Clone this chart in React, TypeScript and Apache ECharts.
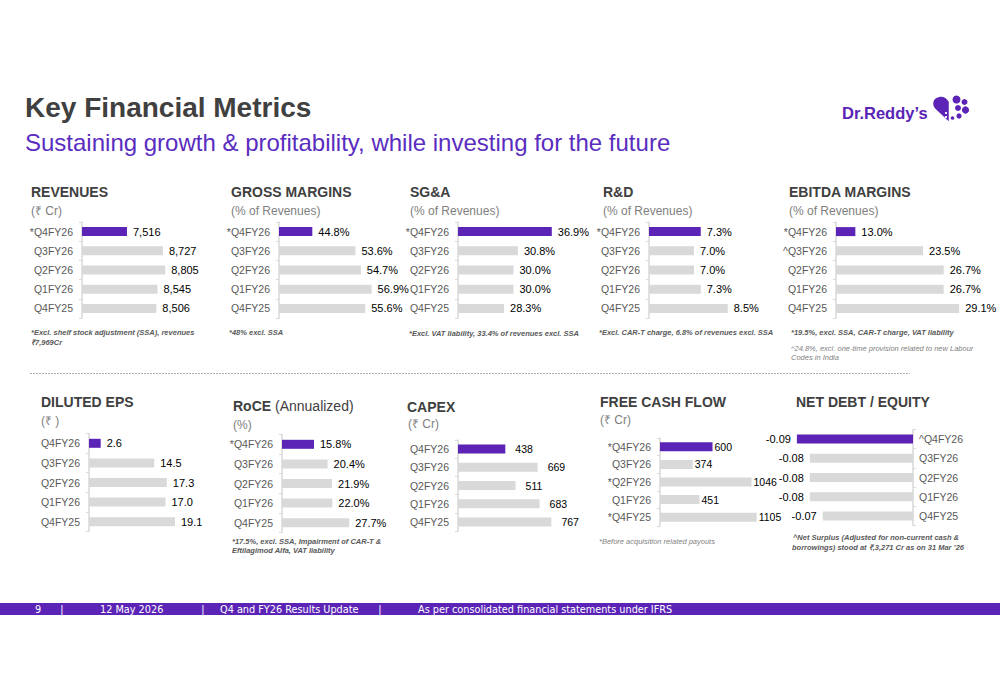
import React, { useEffect, useRef } from "react";
import * as echarts from "echarts";

// ---------- DATA ----------
const revCats = ["*Q4FY26", "Q3FY26", "Q2FY26", "Q1FY26", "Q4FY25"];
const revVals = [7516, 8727, 8805, 8545, 8506];

const gmCats = ["*Q4FY26", "Q3FY26", "Q2FY26", "Q1FY26", "Q4FY25"];
const gmVals = [44.8, 53.6, 54.7, 56.9, 55.6];

const sgaCats = ["*Q4FY26", "Q3FY26", "Q2FY26", "Q1FY26", "Q4FY25"];
const sgaVals = [36.9, 30.8, 30.0, 30.0, 28.3];

const rdCats = ["*Q4FY26", "Q3FY26", "Q2FY26", "Q1FY26", "Q4FY25"];
const rdVals = [7.3, 7.0, 7.0, 7.3, 8.5];

const ebitdaCats = ["*Q4FY26", "^Q3FY26", "Q2FY26", "Q1FY26", "Q4FY25"];
const ebitdaVals = [13.0, 23.5, 26.7, 26.7, 29.1];

const epsCats = ["Q4FY26", "Q3FY26", "Q2FY26", "Q1FY26", "Q4FY25"];
const epsVals = [2.6, 14.5, 17.3, 17.0, 19.1];

const roceCats = ["*Q4FY26", "Q3FY26", "Q2FY26", "Q1FY26", "Q4FY25"];
const roceVals = [15.8, 20.4, 21.9, 22.0, 27.7];

const capexCats = ["Q4FY26", "Q3FY26", "Q2FY26", "Q1FY26", "Q4FY25"];
const capexVals = [438, 669, 511, 683, 767];

const fcfCats = ["*Q4FY26", "Q3FY26", "*Q2FY26", "Q1FY26", "*Q4FY25"];
const fcfVals = [600, 374, 1046, 451, 1105];

const ndeCats = ["^Q4FY26", "Q3FY26", "Q2FY26", "Q1FY26", "Q4FY25"];
const ndeVals = [-0.09, -0.08, -0.08, -0.08, -0.07];

// ---------- STYLE ----------
const PURPLE = "#5B24B6";
const BAR_GRAY = "#D9D9D9";
const FONT = '"Liberation Sans", Arial, sans-serif';
const TITLE_C = "#404040";
const CAT_C = "#595959";
const UNIT_C = "#808080";
const NOTE_C = "#595959";

type Panel = {
  cats: string[];
  vals: number[];
  min: number;
  max: number;
  fmt: (v: number) => string;
  grid: { left: number; top: number; width: number; height: number };
  right?: boolean;
  dist?: number;
  fs?: number;
};

const withComma = (v: number) => v.toLocaleString("en-US");
const pct = (v: number) => v.toFixed(1) + "%";
const one = (v: number) => v.toFixed(1);
const int = (v: number) => String(v);
const two = (v: number) => v.toFixed(2);

const panels: Panel[] = [
  { cats: revCats, vals: revVals, min: 6000, max: 9000, fmt: withComma, grid: { left: 82, top: 222, width: 89, height: 96 } },
  { cats: gmCats, vals: gmVals, min: 38, max: 58, fmt: pct, grid: { left: 279, top: 222, width: 98, height: 96 } },
  { cats: sgaCats, vals: sgaVals, min: 20, max: 40, fmt: pct, grid: { left: 458, top: 222, width: 111, height: 96 } },
  { cats: rdCats, vals: rdVals, min: 5, max: 9, fmt: pct, grid: { left: 649, top: 222, width: 90, height: 96 } },
  { cats: ebitdaCats, vals: ebitdaVals, min: 10, max: 30, fmt: pct, grid: { left: 836, top: 222, width: 129, height: 96 } },
  { cats: epsCats, vals: epsVals, min: 0, max: 20, fmt: one, grid: { left: 89, top: 433.5, width: 90, height: 98 } },
  { cats: roceCats, vals: roceVals, min: 5, max: 30, fmt: pct, grid: { left: 282, top: 434.5, width: 74, height: 98 } },
  { cats: capexCats, vals: capexVals, min: 100, max: 800, fmt: int, grid: { left: 458, top: 440, width: 98, height: 91 }, dist: 10, fs: 10.5 },
  { cats: fcfCats, vals: fcfVals, min: 0, max: 1200, fmt: int, grid: { left: 660, top: 438, width: 105, height: 88 }, dist: 2, fs: 10.5 },
  { cats: ndeCats, vals: ndeVals, min: -0.1, max: 0, fmt: two, grid: { left: 784, top: 429.5, width: 129, height: 96 }, right: true },
];

function txt(text: string, x: number, y: number, font: string, fill: string, align = "left") {
  return {
    type: "text",
    silent: true,
    style: {
      text,
      x,
      y,
      font,
      fill,
      align,
      textAlign: align,
      verticalAlign: "middle",
      textVerticalAlign: "middle",
    },
  };
}

const titleFont = `bold 14px ${FONT}`;
const unitFont = `12px ${FONT}`;
const noteB = `italic bold 7.5px ${FONT}`;
const noteR = `italic 7.5px ${FONT}`;
const footFont = `10.8px "DejaVu Sans Condensed", "DejaVu Sans", sans-serif`;

echarts.graphic.registerShape(
  "drheart",
  echarts.graphic.extendPath("M15 26 L3 14 C-1.5 9.5 -0.5 2 6 1 C10 0.3 13 2.5 15 6 Z", {})
);

export default function App() {
  const ref = useRef<HTMLDivElement>(null);

  useEffect(() => {
    if (!ref.current) return;
    const chart = echarts.init(ref.current, undefined, { renderer: "svg" });

    const grids = panels.map((p) => ({ ...p.grid, containLabel: false, outerBoundsMode: "none" }));
    const xAxes = panels.map((p, i) => ({
      type: "value",
      gridIndex: i,
      min: p.min,
      max: p.max,
      show: false,
      splitLine: { show: false },
    }));
    const yAxes = panels.map((p, i) => ({
      type: "category",
      gridIndex: i,
      data: p.cats,
      inverse: true,
      position: p.right ? "right" : "left",
      axisLine: { show: true, onZero: false, lineStyle: { color: BAR_GRAY, width: 1.5 } },
      axisTick: { show: true, length: 3, lineStyle: { color: BAR_GRAY } },
      axisLabel: {
        color: CAT_C,
        fontSize: 10.5,
        fontFamily: FONT,
        margin: p.right ? 6 : 9,
      },
    }));
    const series = panels.map((p, i) => ({
      type: "bar",
      xAxisIndex: i,
      yAxisIndex: i,
      barWidth: 9,
      silent: true,
      data: p.vals.map((v, j) => ({ value: v, itemStyle: { color: j === 0 ? PURPLE : BAR_GRAY } })),
      label: {
        show: true,
        position: p.right ? "left" : "right",
        distance: p.dist ?? 6,
        color: "#000",
        fontSize: p.fs ?? 11,
        fontFamily: FONT,
        formatter: (params: any) => p.fmt(params.value as number),
      },
    }));

    const elements: any[] = [
      // Header
      txt("Key Financial Metrics", 25, 107, `bold 28px ${FONT}`, TITLE_C),
      txt("Sustaining growth & profitability, while investing for the future", 25, 142, `24px ${FONT}`, "#5A2DC0"),
      txt("Dr.Reddy\u2019s", 842, 113, `bold 16.5px ${FONT}`, PURPLE),
      { type: "drheart", x: 933, y: 96, scaleX: 1.05, scaleY: 0.97, silent: true, style: { fill: PURPLE } },
      { type: "circle", silent: true, shape: { cx: 956.5, cy: 99.5, r: 4 }, style: { fill: PURPLE } },
      { type: "circle", silent: true, shape: { cx: 964.5, cy: 102, r: 3 }, style: { fill: PURPLE } },
      { type: "circle", silent: true, shape: { cx: 958, cy: 108, r: 3 }, style: { fill: PURPLE } },
      { type: "circle", silent: true, shape: { cx: 965.5, cy: 110, r: 3.6 }, style: { fill: PURPLE } },
      { type: "circle", silent: true, shape: { cx: 959, cy: 116, r: 2.6 }, style: { fill: PURPLE } },
      { type: "circle", silent: true, shape: { cx: 952.5, cy: 118, r: 1.8 }, style: { fill: PURPLE } },
      { type: "circle", silent: true, shape: { cx: 946, cy: 113, r: 1.1 }, style: { fill: "#fff" } },
      { type: "circle", silent: true, shape: { cx: 946, cy: 117, r: 1.1 }, style: { fill: "#fff" } },

      // Top row titles
      txt("REVENUES", 31, 192, titleFont, TITLE_C),
      txt("(\u20B9 Cr)", 31, 211, unitFont, UNIT_C),
      txt("GROSS MARGINS", 231, 192, titleFont, TITLE_C),
      txt("(% of Revenues)", 231, 211, unitFont, UNIT_C),
      txt("SG&A", 410, 192, titleFont, TITLE_C),
      txt("(% of Revenues)", 410, 211, unitFont, UNIT_C),
      txt("R&D", 603, 192, titleFont, TITLE_C),
      txt("(% of Revenues)", 603, 211, unitFont, UNIT_C),
      txt("EBITDA MARGINS", 789, 192, titleFont, TITLE_C),
      txt("(% of Revenues)", 789, 211, unitFont, UNIT_C),

      // Top row notes
      txt("*Excl. shelf stock adjustment (SSA), revenues", 31, 332, noteB, NOTE_C),
      txt("\u20B97,969Cr", 31, 342, noteB, NOTE_C),
      txt("*48% excl. SSA", 229, 332, noteB, NOTE_C),
      txt("*Excl. VAT liability, 33.4% of revenues excl. SSA", 409, 333, noteB, NOTE_C),
      txt("*Excl. CAR-T charge, 6.8% of revenues excl. SSA", 599, 332, noteB, NOTE_C),
      txt("*19.5%, excl. SSA, CAR-T charge, VAT liability", 791, 332, noteB, NOTE_C),
      txt("^24.8%, excl. one-time provision related to new Labour", 791, 348, noteR, "#7F7F7F"),
      txt("Codes in India", 791, 357, noteR, "#7F7F7F"),

      // Separator
      {
        type: "line",
        silent: true,
        shape: { x1: 30, y1: 373.5, x2: 910, y2: 373.5 },
        style: { stroke: "#B0B0B0", lineWidth: 1, lineDash: [2, 1] },
      },

      // Bottom row titles
      txt("DILUTED EPS", 41, 402, titleFont, TITLE_C),
      txt("(\u20B9 )", 41, 421, unitFont, UNIT_C),
      {
        type: "text",
        silent: true,
        style: {
          text: "{b|RoCE}{n| (Annualized)}",
          x: 233,
          y: 406,
          verticalAlign: "middle",
          textVerticalAlign: "middle",
          rich: {
            b: { font: `bold 14px ${FONT}`, fill: TITLE_C, fontWeight: "bold", fontSize: 14, fontFamily: FONT, color: TITLE_C },
            n: { font: `14px ${FONT}`, fill: TITLE_C, fontSize: 14, fontFamily: FONT, color: TITLE_C },
          },
        },
      },
      txt("(%)", 233, 425, unitFont, UNIT_C),
      txt("CAPEX", 407, 407, titleFont, TITLE_C),
      txt("(\u20B9 Cr)", 408, 424, unitFont, UNIT_C),
      txt("FREE CASH FLOW", 600, 402, titleFont, TITLE_C),
      txt("(\u20B9 Cr)", 600, 420, unitFont, UNIT_C),
      txt("NET DEBT / EQUITY", 796, 402, titleFont, TITLE_C),

      // Bottom row notes
      txt("*17.5%, excl. SSA, Impairment of CAR-T &", 232, 541, noteB, NOTE_C),
      txt("Eftilagimod Alfa, VAT liability", 232, 550, noteB, NOTE_C),
      txt("*Before acquisition related payouts", 599, 541, noteR, "#7F7F7F"),
      txt("^Net Surplus (Adjusted for non-current cash &", 876, 537, noteB, NOTE_C, "center"),
      txt("borrowings) stood at \u20B9,3,271 Cr as on 31 Mar \u201926", 878, 547, noteB, NOTE_C, "center"),

      // Footer
      { type: "rect", silent: true, shape: { x: 0, y: 603, width: 1000, height: 12 }, style: { fill: PURPLE } },
      txt("9", 38, 609.5, footFont, "#fff", "center"),
      txt("|", 62, 609.5, footFont, "#fff", "center"),
      txt("12 May 2026", 100, 609.5, footFont, "#fff"),
      txt("|", 203, 609.5, footFont, "#fff", "center"),
      txt("Q4 and FY26 Results Update", 220, 609.5, footFont, "#fff"),
      txt("|", 380, 609.5, footFont, "#fff", "center"),
      txt("As per consolidated financial statements under IFRS", 418, 609.5, footFont, "#fff"),
    ];

    chart.setOption({
      animation: false,
      backgroundColor: "#ffffff",
      grid: grids,
      xAxis: xAxes,
      yAxis: yAxes,
      series,
      graphic: { elements },
    } as any);

    return () => chart.dispose();
  }, []);

  return (
    <div
      ref={ref}
      style={{ position: "fixed", left: 0, top: 0, width: 1000, height: 685, background: "#fff" }}
    />
  );
}
